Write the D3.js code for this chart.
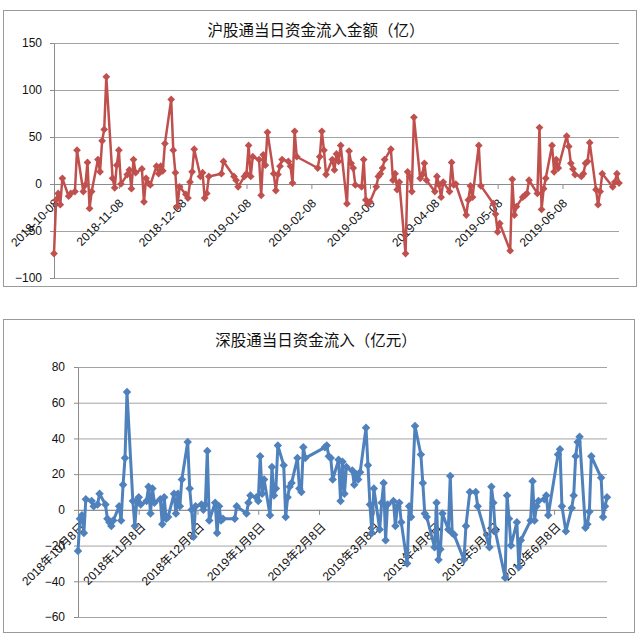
<!DOCTYPE html>
<html>
<head>
<meta charset="utf-8">
<script src="https://cdn.jsdelivr.net/npm/d3@7"></script>
<style>
  body { margin: 0; background: #fff; }
  svg { display: block; font-family: "Liberation Sans", Arial, sans-serif; }
</style>
</head>
<body>
<svg id="chart" width="640" height="640"></svg>
<script>
// 沪股通 (Shanghai northbound) daily inflow, 亿
const shDates = [
  "2018-10-08","2018-10-09","2018-10-10","2018-10-11","2018-10-12","2018-10-15","2018-10-16","2018-10-18","2018-10-19","2018-10-22","2018-10-23","2018-10-24","2018-10-25","2018-10-26","2018-10-29","2018-10-30","2018-10-31",
  "2018-11-01","2018-11-02","2018-11-05","2018-11-06","2018-11-07","2018-11-08","2018-11-09","2018-11-12","2018-11-13","2018-11-14","2018-11-15","2018-11-16","2018-11-19","2018-11-20","2018-11-21","2018-11-22","2018-11-23","2018-11-26","2018-11-27","2018-11-28","2018-11-29","2018-11-30",
  "2018-12-03","2018-12-04","2018-12-05","2018-12-06","2018-12-07","2018-12-10","2018-12-11","2018-12-12","2018-12-13","2018-12-14","2018-12-17","2018-12-18","2018-12-19","2018-12-20","2018-12-21","2018-12-27","2018-12-28",
  "2019-01-02","2019-01-03","2019-01-04","2019-01-07","2019-01-08","2019-01-09","2019-01-10","2019-01-11","2019-01-14","2019-01-15","2019-01-16","2019-01-17","2019-01-18","2019-01-21","2019-01-22","2019-01-23","2019-01-24","2019-01-25","2019-01-28","2019-01-29","2019-01-30","2019-01-31",
  "2019-02-01","2019-02-11","2019-02-12","2019-02-13","2019-02-14","2019-02-15","2019-02-18","2019-02-19","2019-02-20","2019-02-21","2019-02-22","2019-02-25","2019-02-26","2019-02-27","2019-02-28",
  "2019-03-01","2019-03-04","2019-03-05","2019-03-06","2019-03-07","2019-03-08","2019-03-11","2019-03-12","2019-03-13","2019-03-14","2019-03-15","2019-03-18","2019-03-19","2019-03-20","2019-03-21","2019-03-22","2019-03-25","2019-03-26","2019-03-27","2019-03-28","2019-03-29",
  "2019-04-01","2019-04-02","2019-04-03","2019-04-04","2019-04-08","2019-04-09","2019-04-10","2019-04-11","2019-04-12","2019-04-15","2019-04-16","2019-04-17","2019-04-18","2019-04-23","2019-04-24","2019-04-25","2019-04-26","2019-04-29","2019-04-30",
  "2019-05-06","2019-05-07","2019-05-08","2019-05-09","2019-05-14","2019-05-15","2019-05-16","2019-05-17","2019-05-20","2019-05-21","2019-05-22","2019-05-23","2019-05-27","2019-05-28","2019-05-29","2019-05-30","2019-05-31",
  "2019-06-03","2019-06-04","2019-06-05","2019-06-06","2019-06-10","2019-06-11","2019-06-12","2019-06-13","2019-06-14","2019-06-17","2019-06-18","2019-06-19","2019-06-20","2019-06-21","2019-06-24","2019-06-25","2019-06-26","2019-06-27",
  "2019-07-02","2019-07-03","2019-07-04","2019-07-05"
];
const shValues = [
  -74,-17,-10,-22,6,-13,-10,-8,36,-8,-1,23,-26,-8,26,13,46,
  58,114,6,-4,20,36,0,10,15,-5,26,12,16,-19,6,1,-1,19,11,19,14,43,
  90,36,12,-24,-3,-11,-15,2,13,37,8,12,-15,-10,8,11,24,
  8,4,-3,8,11,41,8,29,26,-12,31,20,55,11,-7,10,19,26,24,19,1,56,
  29,17,29,56,36,10,26,15,32,24,41,-21,35,22,17,
  -1,-3,26,-17,-21,-19,-3,8,11,17,26,37,4,11,-6,2,-74,13,8,-8,71,
  6,10,22,4,-8,8,-1,-14,2,-8,23,-1,0,-33,-17,-2,-14,41,-2,
  -21,-32,-51,-42,-71,5,-33,-24,-14,-12,-10,4,-10,60,-27,-5,6,
  41,13,26,17,51,40,22,16,10,8,11,22,24,44,-6,-22,-8,11,
  -3,2,11,1
];

// 深股通 (Shenzhen northbound) daily inflow, 亿元
const szDates = [
  "2018-10-08","2018-10-09","2018-10-10","2018-10-11","2018-10-12","2018-10-15","2018-10-16","2018-10-18","2018-10-19","2018-10-22","2018-10-23","2018-10-24","2018-10-25","2018-10-26","2018-10-29","2018-10-30","2018-10-31",
  "2018-11-01","2018-11-02","2018-11-05","2018-11-06","2018-11-07","2018-11-08","2018-11-09","2018-11-12","2018-11-13","2018-11-14","2018-11-15","2018-11-16","2018-11-19","2018-11-20","2018-11-21","2018-11-22","2018-11-23","2018-11-26","2018-11-27","2018-11-28","2018-11-29","2018-11-30",
  "2018-12-03","2018-12-04","2018-12-05","2018-12-06","2018-12-07","2018-12-10","2018-12-11","2018-12-12","2018-12-13","2018-12-14","2018-12-17","2018-12-18","2018-12-19","2018-12-20","2018-12-21","2018-12-27","2018-12-28",
  "2019-01-02","2019-01-03","2019-01-04","2019-01-07","2019-01-08","2019-01-09","2019-01-10","2019-01-11","2019-01-14","2019-01-15","2019-01-16","2019-01-17","2019-01-18","2019-01-21","2019-01-22","2019-01-23","2019-01-24","2019-01-25","2019-01-28","2019-01-29","2019-01-30","2019-01-31",
  "2019-02-01","2019-02-11","2019-02-12","2019-02-13","2019-02-14","2019-02-15","2019-02-18","2019-02-19","2019-02-20","2019-02-21","2019-02-22","2019-02-25","2019-02-26","2019-02-27","2019-02-28",
  "2019-03-01","2019-03-04","2019-03-05","2019-03-06","2019-03-07","2019-03-08","2019-03-11","2019-03-12","2019-03-13","2019-03-14","2019-03-15","2019-03-18","2019-03-19","2019-03-20","2019-03-21","2019-03-22","2019-03-25","2019-03-26","2019-03-27","2019-03-29",
  "2019-04-01","2019-04-02","2019-04-03","2019-04-04","2019-04-08","2019-04-09","2019-04-10","2019-04-11","2019-04-12","2019-04-15","2019-04-16","2019-04-17","2019-04-18","2019-04-23","2019-04-24","2019-04-26","2019-04-29","2019-04-30",
  "2019-05-06","2019-05-07","2019-05-08","2019-05-09","2019-05-14","2019-05-15","2019-05-16","2019-05-17","2019-05-20","2019-05-21","2019-05-22","2019-05-27","2019-05-28","2019-05-29","2019-05-30","2019-05-31",
  "2019-06-03","2019-06-04","2019-06-05","2019-06-10","2019-06-11","2019-06-12","2019-06-14","2019-06-17","2019-06-18","2019-06-19","2019-06-20","2019-06-21","2019-06-24","2019-06-25","2019-06-26","2019-06-27",
  "2019-07-02","2019-07-03","2019-07-04","2019-07-05"
];
const szValues = [
  -23,-5,-3,-13,6,5,2,3,9,3,-5,-7,-9,-6,2,-6,14,
  29,66,5,-9,5,7,3,5,13,-2,12,4,6,-8,7,-5,-4,9,-2,9,2,17,
  38,12,0,-15,2,3,0,3,33,-6,4,-13,2,-6,-5,-5,2,
  -2,4,8,7,5,30,9,17,-3,24,8,12,36,25,-4,7,13,15,29,12,10,35,
  29,35,36,30,29,17,28,5,27,9,24,22,14,20,17,
  21,46,25,3,-13,12,-11,4,15,-17,3,5,-9,2,4,-7,-30,2,-4,47,
  31,15,-2,-4,-21,4,-28,-22,-2,-11,19,-13,-14,-28,-9,10,10,2,
  -21,13,4,-12,-38,8,-5,-20,-7,-32,-17,-6,16,-6,2,5,
  6,8,-3,31,34,2,-12,1,8,30,38,41,-10,-8,-1,30,
  18,-4,2,7
];

const monthTicks = ["2018-10-08","2018-11-08","2018-12-08","2019-01-08","2019-02-08","2019-03-08","2019-04-08","2019-05-08","2019-06-08"];
const shYTicks = [-100, -50, 0, 50, 100, 150];
const szYTicks = [-60, -40, -20, 0, 20, 40, 60, 80];
const shTitle = "沪股通当日资金流入金额（亿）";
const szTitle = "深股通当日资金流入（亿元）";

const parseDate = d3.timeParse("%Y-%m-%d");
const svg = d3.select("#chart");

function drawChart(opt) {
  const g = svg.append("g");

  // outer frame
  g.append("rect")
    .attr("x", opt.box[0] + 0.5).attr("y", opt.box[1] + 0.5)
    .attr("width", opt.box[2]).attr("height", opt.box[3])
    .attr("fill", "#fff").attr("stroke", "#9a9a9a");

  g.append("text")
    .attr("x", opt.titleX).attr("y", opt.titleY)
    .attr("text-anchor", "middle")
    .style("font-family", '"Noto Sans CJK SC", sans-serif')
    .style("font-size", "15.5px")
    .attr("fill", "#111")
    .text(opt.title);

  const data = opt.dates.map((d, i) => ({ date: parseDate(d), value: opt.values[i] }));

  const x = d3.scaleTime()
    .domain(d3.extent(data, d => d.date))
    .range([opt.left, opt.right]);
  const y = d3.scaleLinear()
    .domain(d3.extent(opt.yTicks))
    .range([opt.bottom, opt.top]);

  // horizontal gridlines
  g.append("g")
    .attr("transform", `translate(${opt.left},0)`)
    .call(d3.axisLeft(y).tickValues(opt.yTicks).tickSize(-(opt.right - opt.left)).tickFormat(""))
    .call(s => s.select(".domain").remove())
    .selectAll("line").attr("stroke", "#a3a3a3");

  // value axis
  const ya = g.append("g")
    .attr("transform", `translate(${opt.left},0)`)
    .call(d3.axisLeft(y).tickValues(opt.yTicks).tickSizeInner(4).tickSizeOuter(0).tickPadding(opt.yPad));
  ya.select(".domain").attr("stroke", "#8c8c8c");
  ya.selectAll("line").attr("stroke", "#8c8c8c");
  ya.selectAll("text").style("font-size", "12px").attr("fill", "#111");

  // date axis across the zero line
  const xa = g.append("g")
    .attr("transform", `translate(0,${y(0)})`)
    .call(d3.axisBottom(x)
      .tickValues(monthTicks.map(parseDate))
      .tickSizeInner(5).tickSizeOuter(0)
      .tickFormat(opt.tickFormat));
  xa.select(".domain").attr("stroke", "#8c8c8c");
  xa.selectAll("line").attr("stroke", "#8c8c8c");
  xa.selectAll("text")
    .attr("x", 0).attr("y", 0).attr("dy", "0.35em")
    .attr("text-anchor", "end")
    .attr("transform", `translate(${opt.labelShift[0]},${opt.labelShift[1]}) rotate(-45)`)
    .style("font-family", '"Liberation Sans", "Noto Sans CJK SC", sans-serif')
    .style("font-size", "12px")
    .attr("fill", "#111");

  const line = d3.line().x(d => x(d.date)).y(d => y(d.value));
  g.append("path")
    .datum(data)
    .attr("fill", "none")
    .attr("stroke", opt.color)
    .attr("stroke-width", opt.lineWidth)
    .attr("stroke-linejoin", "round")
    .attr("d", line);

  g.selectAll(".marker")
    .data(data)
    .join("path")
    .attr("class", "marker")
    .attr("d", d3.symbol(d3.symbolSquare, opt.markerSize))
    .attr("transform", d => `translate(${x(d.date)},${y(d.value)}) rotate(45)`)
    .attr("fill", opt.color);
}

drawChart({
  box: [3, 10, 633, 276],
  title: shTitle, titleX: 316, titleY: 36,
  dates: shDates, values: shValues, yTicks: shYTicks,
  left: 54, right: 619, top: 43, bottom: 278, yPad: 8,
  tickFormat: d3.timeFormat("%Y-%m-%d"),
  labelShift: [2, 17],
  color: "#C0504D", lineWidth: 2.5, markerSize: 30
});

drawChart({
  box: [3, 319, 631, 313],
  title: szTitle, titleX: 316, titleY: 346,
  dates: szDates, values: szValues, yTicks: szYTicks,
  left: 78, right: 607, top: 367, bottom: 617, yPad: 9,
  tickFormat: d3.timeFormat("%Y年%-m月%-d日"),
  labelShift: [4, 15],
  color: "#4F81BD", lineWidth: 3, markerSize: 36
});
</script>
</body>
</html>
